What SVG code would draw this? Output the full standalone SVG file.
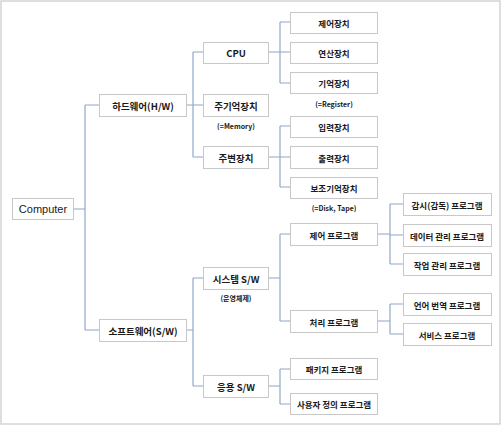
<svg xmlns="http://www.w3.org/2000/svg" width="502" height="426" viewBox="0 0 502 426">
<style>
.b{fill:#fff;stroke:#c8c8c8;stroke-width:1}
.t{font-family:"Noto Sans CJK KR","Liberation Sans",sans-serif;fill:#1a1a1a;text-anchor:middle;dominant-baseline:central}
.m{font-size:9.5px;font-weight:bold}
.s{font-size:8.5px;font-weight:bold}
.n{font-size:7px;font-weight:bold}
.c{fill:none;stroke:#8fa8c8;stroke-width:1.2}
</style>
<rect x="1" y="1" width="499" height="423" fill="#fff" stroke="#d4d4d4" stroke-width="1.5"/>
<g id="connectors" class="c">
<path d="M73 209H85M85 105V330M85 105H99M85 330H99"/>
<path d="M186 105H193M193 52V157M193 52H203M193 105H203M193 157H203"/>
<path d="M268 52H280M280 22V83M280 22H290M280 52H290M280 83H290"/>
<path d="M268 157H280M280 126V187M280 126H290M280 157H290M280 187H290"/>
<path d="M186 330H193M193 278V386M193 278H203M193 386H203"/>
<path d="M268 278H280M280 234V321M280 234H290M280 321H290"/>
<path d="M268 386H280M280 369V404M280 369H290M280 404H290"/>
<path d="M377 234H390M390 204V264M390 204H403M390 235H403M390 264H403"/>
<path d="M377 321H390M390 304V334M390 304H403M390 334H403"/>
</g>
<g id="computer"><rect class="b" x="12.5" y="198.5" width="61" height="21"/><text class="t" x="43" y="209" style="font-size:11px;font-family:'Liberation Sans','Noto Sans CJK KR',sans-serif">Computer</text></g>
<g id="hw"><rect class="b" x="99.5" y="94.5" width="87" height="22"/><text class="t m" x="143" y="105.5">하드웨어(H/W)</text></g>
<g id="sw"><rect class="b" x="99.5" y="319.5" width="87" height="22"/><text class="t m" x="143" y="330.5">소프트웨어(S/W)</text></g>
<g id="cpu"><rect class="b" x="203.5" y="42.5" width="65" height="21"/><text class="t m" x="236" y="53">CPU</text></g>
<g id="memory"><rect class="b" x="203.5" y="94.5" width="65" height="22"/><text class="t m" x="236" y="105.5">주기억장치</text><text class="t n" x="236" y="126">(=Memory)</text></g>
<g id="peripheral"><rect class="b" x="203.5" y="146.5" width="65" height="22"/><text class="t m" x="236" y="157.5">주변장치</text></g>
<g id="system"><rect class="b" x="203.5" y="267.5" width="65" height="22"/><text class="t m" x="236" y="278.5">시스템 S/W</text><text class="t n" x="236" y="298">(운영체제)</text></g>
<g id="app"><rect class="b" x="203.5" y="375.5" width="65" height="22"/><text class="t m" x="236" y="386.5">응용 S/W</text></g>
<g id="control-unit"><rect class="b" x="290.5" y="12.5" width="87" height="21"/><text class="t s" x="334" y="23">제어장치</text></g>
<g id="alu"><rect class="b" x="290.5" y="42.5" width="87" height="21"/><text class="t s" x="334" y="53">연산장치</text></g>
<g id="register"><rect class="b" x="290.5" y="72.5" width="87" height="21"/><text class="t s" x="334" y="83">기억장치</text><text class="t n" x="334" y="104">(=Register)</text></g>
<g id="input"><rect class="b" x="290.5" y="116.5" width="87" height="21"/><text class="t s" x="334" y="127">입력장치</text></g>
<g id="output"><rect class="b" x="290.5" y="146.5" width="87" height="22"/><text class="t s" x="334" y="157.5">출력장치</text></g>
<g id="storage"><rect class="b" x="290.5" y="177.5" width="87" height="21"/><text class="t s" x="334" y="188">보조기억장치</text><text class="t n" x="334" y="208">(=Disk, Tape)</text></g>
<g id="control-prog"><rect class="b" x="290.5" y="223.5" width="87" height="22"/><text class="t s" x="334" y="234.5">제어 프로그램</text></g>
<g id="process-prog"><rect class="b" x="290.5" y="310.5" width="87" height="22"/><text class="t s" x="334" y="321.5">처리 프로그램</text></g>
<g id="package-prog"><rect class="b" x="290.5" y="358.5" width="87" height="21"/><text class="t s" x="334" y="369">패키지 프로그램</text></g>
<g id="user-prog"><rect class="b" x="290.5" y="393.5" width="87" height="21"/><text class="t s" x="334" y="404">사용자 정의 프로그램</text></g>
<g id="supervisor"><rect class="b" x="403.5" y="193.5" width="88" height="22"/><text class="t s" x="447" y="204.5">감시(감독) 프로그램</text></g>
<g id="data-mgmt"><rect class="b" x="403.5" y="224.5" width="88" height="22"/><text class="t s" x="447" y="235.5">데이터 관리 프로그램</text></g>
<g id="job-mgmt"><rect class="b" x="403.5" y="253.5" width="88" height="22"/><text class="t s" x="447" y="264.5">작업 관리 프로그램</text></g>
<g id="translator"><rect class="b" x="403.5" y="293.5" width="88" height="22"/><text class="t s" x="447" y="304.5">언어 번역 프로그램</text></g>
<g id="service"><rect class="b" x="403.5" y="323.5" width="88" height="22"/><text class="t s" x="447" y="334.5">서비스 프로그램</text></g>
</svg>
